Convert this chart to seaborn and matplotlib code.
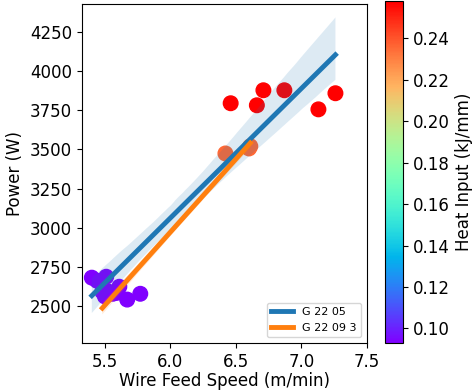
import numpy as np
import pandas as pd
import seaborn as sns
import matplotlib.pyplot as plt

# every weld shown in the scatter
wfs = [5.40, 5.44, 5.51, 5.53, 5.61, 5.50, 5.67,      # low heat, G 22 05
       5.48, 5.56, 5.59, 5.77,                        # low heat, G 22 09 3
       6.42, 6.60, 6.61,                              # mid heat, shared
       6.46, 6.66, 6.71, 6.87, 7.13, 7.26]            # high heat, G 22 05
power = [2680, 2660, 2686, 2590, 2622, 2560, 2540,
         2590, 2577, 2583, 2577,
         3474, 3506, 3520,
         3795, 3782, 3878, 3878, 3756, 3859]
heat = [0.093, 0.093, 0.093, 0.093, 0.093, 0.093, 0.093,
        0.093, 0.093, 0.093, 0.093,
        0.236, 0.236, 0.236,
        0.258, 0.258, 0.258, 0.258, 0.258, 0.258]
in_g05 = [1, 1, 1, 1, 1, 1, 1, 0, 0, 0, 0, 1, 1, 1, 1, 1, 1, 1, 1, 1]
in_g093 = [0, 0, 0, 0, 0, 0, 0, 1, 1, 1, 1, 1, 1, 1, 0, 0, 0, 0, 0, 0]

df = pd.DataFrame({"wfs": wfs, "power": power, "heat": heat,
                   "g05": in_g05, "g093": in_g093})

fig = plt.figure(figsize=(4.74, 3.91), dpi=100)
ax = fig.add_axes([0.173, 0.123, 0.601, 0.867])
cax = fig.add_axes([0.812, 0.123, 0.038, 0.874])

sc = ax.scatter(df["wfs"], df["power"], c=df["heat"], cmap="rainbow",
                s=110, zorder=1)

sns.regplot(data=df[df["g05"] == 1], x="wfs", y="power", scatter=False, ax=ax,
            color="#1f77b4", label="G 22 05", seed=0, line_kws={"lw": 3.5})
sns.regplot(data=df[df["g093"] == 1], x="wfs", y="power", scatter=False, ax=ax,
            color="#ff7f0e", label="G 22 09 3", ci=50, seed=0, line_kws={"lw": 3.5})

ax.set_xlim(5.325, 7.5)
ax.set_ylim(2263, 4430)
ax.set_xticks([5.5, 6.0, 6.5, 7.0, 7.5])
ax.set_yticks([2500, 2750, 3000, 3250, 3500, 3750, 4000, 4250])
ax.tick_params(labelsize=12)
ax.set_xlabel("Wire Feed Speed (m/min)", fontsize=12, labelpad=1)
ax.set_ylabel("Power (W)", fontsize=12)
ax.legend(loc="lower right", fontsize=8)

cb = fig.colorbar(sc, cax=cax)
cb.set_ticks([0.10, 0.12, 0.14, 0.16, 0.18, 0.20, 0.22, 0.24])
cb.ax.tick_params(labelsize=12)
cb.set_label("Heat Input (kJ/mm)", fontsize=12)

fig.savefig("out.png", dpi=100)
